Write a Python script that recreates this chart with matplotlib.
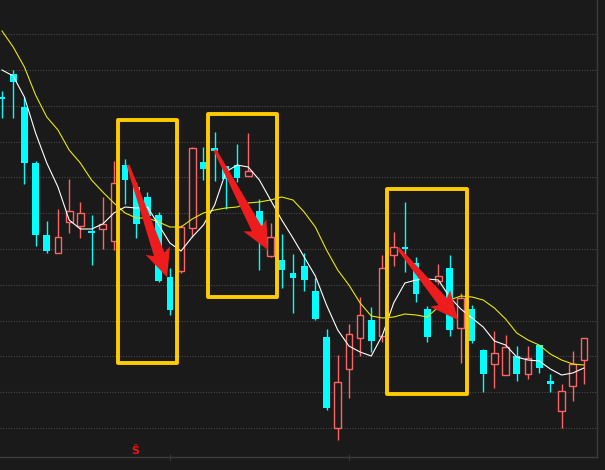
import numpy as np
import matplotlib.pyplot as plt
from matplotlib.patches import Rectangle, Polygon

# candle data (price units)
opens = [37.3, 39.6, 36.3, 30.7, 23.5, 21.7, 24.8, 24.4, 23.9, 24.1,
         22.9, 30.5, 28.3, 27.3, 25.5, 19.3, 19.9, 24.2, 30.8, 32.2,
         30.4, 30.5, 29.4, 25.9, 21.4, 21.0, 19.7, 20.4, 17.9, 13.3,
         4.2, 10.1, 13.2, 15.0, 13.4, 21.5, 22.3, 20.7, 16.1, 18.9,
         20.2, 14.2, 16.1, 12.0, 10.6, 9.5, 11.4, 9.6, 12.5, 8.9,
         5.9, 8.4, 11.0]
closes = [37.1, 38.8, 30.7, 23.5, 21.9, 23.3, 25.9, 25.7, 23.7, 24.6,
          28.7, 29.0, 24.6, 25.4, 18.9, 16.0, 24.3, 32.2, 30.1, 31.9,
          29.1, 29.2, 29.9, 24.1, 23.3, 20.0, 19.2, 19.0, 15.1, 6.2,
          8.8, 13.6, 15.5, 12.9, 20.2, 22.3, 22.1, 17.6, 13.3, 19.4,
          14.0, 17.2, 12.9, 9.6, 11.7, 12.3, 9.6, 11.2, 10.2, 8.6,
          7.9, 10.6, 13.2]
highs = [37.9, 40.0, 37.3, 30.9, 24.9, 26.1, 29.1, 26.8, 25.5, 27.3,
         30.9, 31.1, 28.8, 27.8, 25.8, 20.2, 24.5, 32.3, 32.3, 33.8,
         30.4, 32.6, 33.7, 27.1, 24.7, 23.6, 21.6, 21.7, 19.2, 14.1,
         11.5, 14.6, 17.3, 16.3, 21.5, 23.8, 26.8, 21.3, 16.4, 20.6,
         21.5, 17.7, 16.5, 12.1, 13.9, 13.5, 12.4, 12.4, 12.5, 9.6,
         8.6, 11.9, 13.2]
lows = [35.2, 35.2, 28.6, 22.4, 21.7, 21.7, 23.7, 23.2, 20.5, 22.1,
        22.0, 26.6, 23.2, 25.1, 18.8, 15.5, 19.7, 23.3, 29.0, 28.9,
        26.1, 28.8, 29.4, 20.0, 21.3, 18.2, 15.7, 17.9, 15.0, 6.0,
        3.0, 7.2, 11.4, 11.8, 12.8, 20.4, 19.8, 16.8, 12.8, 18.6,
        13.4, 10.7, 12.7, 7.8, 8.2, 9.5, 8.9, 9.1, 9.7, 7.8,
        4.2, 6.9, 8.6]

ma_white = [40.0, 39.4, 37.3, 33.7, 30.7, 28.3, 25.0, 24.1, 24.1, 24.6,
            25.7, 26.3, 26.2, 26.3, 24.5, 22.7, 21.9, 23.3, 24.5, 26.5,
            29.8, 30.5, 30.3, 29.0, 27.0, 25.0, 23.2, 21.3, 19.4, 16.5,
            14.0, 12.4, 11.8, 11.4, 13.5, 16.7, 18.7, 19.0, 19.1, 19.0,
            17.3, 16.1, 15.2, 14.3, 12.9, 12.5, 11.3, 11.0, 10.9, 10.1,
            9.5, 9.7, 10.2]
ma_yellow = [43.9, 42.3, 40.3, 37.5, 35.3, 34.0, 32.0, 30.7, 29.0, 27.8,
             26.7, 25.7, 25.2, 25.2, 24.8, 24.3, 24.3, 25.1, 25.7, 26.0,
             26.2, 26.3, 26.7, 26.8, 27.0, 27.3, 27.0, 25.8, 24.3, 22.0,
             20.0, 18.5, 16.7, 15.4, 15.2, 15.3, 15.6, 15.5, 15.3, 16.3,
             17.0, 17.4, 17.3, 17.0, 16.2, 15.1, 13.7, 13.0, 12.5, 11.6,
             11.0, 10.6, 10.5]

# highlight boxes: (x0, x1, y_bottom, y_top) in candle index / price
boxes = [(10.37, 15.64, 10.7, 35.0),
         (18.41, 24.58, 17.3, 35.6),
         (34.41, 41.56, 7.6, 28.1)]
# arrows: (x_tail, y_tail, x_tip, y_tip)
arrows = [(11.26, 30.5, 14.75, 19.3),
          (19.03, 32.0, 23.77, 22.0),
          (35.39, 22.2, 40.75, 15.0)]

bg = "#1a1a1a"
up_col = "#ff6464"
down_col = "#00ffff"

fig = plt.figure(figsize=(6.05, 4.70), dpi=100)
fig.patch.set_facecolor(bg)
ax = fig.add_axes([0, 13 / 470, 597 / 605, 457 / 470])
ax.set_facecolor(bg)

x = np.arange(len(opens))
o = np.array(opens)
c = np.array(closes)
up = c > o

# grid
for gy in np.arange(4.2, 45, 3.58):
    ax.axhline(gy, color="#555555", lw=0.8, ls=(0, (0.8, 1.6)), zorder=0)

# wicks
ax.vlines(x[up], np.array(lows)[up], np.array(highs)[up], color=up_col, lw=1, zorder=2)
ax.vlines(x[~up], np.array(lows)[~up], np.array(highs)[~up], color=down_col, lw=1, zorder=2)

# bodies
w = 0.6
bottom = np.minimum(o, c)
height = np.maximum(np.abs(c - o), 0.2)
ax.bar(x[up], height[up], w, bottom=bottom[up], facecolor=bg, edgecolor=up_col, lw=1, zorder=3)
ax.bar(x[~up], height[~up], w, bottom=bottom[~up], color=down_col, lw=0, zorder=3)

# moving averages
ax.plot(x, ma_yellow, color="#e8e800", lw=0.8, zorder=4)
ax.plot(x, ma_white, color="white", lw=0.8, zorder=4)

# boxes
for x0, x1, y0, y1 in boxes:
    ax.add_patch(Rectangle((x0, y0), x1 - x0, y1 - y0, fill=False, edgecolor="#ffcc00",
                           lw=2.8, joinstyle="round", zorder=5))

ax.set_xlim(-0.179, 53.17)
ax.set_ylim(1.3, 47.0)

# arrows drawn in pixel space so the shape does not stretch
fig.canvas.draw()
for xt, yt, xh, yh in arrows:
    p0 = ax.transData.transform((xt, yt))
    p1 = ax.transData.transform((xh, yh))
    d = p1 - p0
    L = np.hypot(*d)
    u = d / L
    n = np.array([-u[1], u[0]])
    base = p1 - u * 24
    pts = [p0 + n * 1.5, base + n * 5.5, base - u * 4 + n * 13, p1,
           base - u * 4 - n * 13, base - n * 5.5, p0 - n * 1.5]
    ax.add_patch(Polygon(pts, closed=True, transform=None, facecolor="#ee1c1c",
                         edgecolor="none", zorder=6))

# marker under the axis
ax.text(11.9, 1.95, "Ŝ", color="#ee1111", fontsize=8, fontweight="bold",
        ha="center", va="center", zorder=6)

for s in ["top", "left"]:
    ax.spines[s].set_visible(False)
for s in ["bottom", "right"]:
    ax.spines[s].set_color("#3c3c3c")
    ax.spines[s].set_linewidth(1)
ax.set_yticks([])
ax.set_xticks([15, 31])
ax.set_xticklabels([])
ax.tick_params(axis="x", direction="inout", length=5, color="#3c3c3c")

fig.savefig("out.png", dpi=100, facecolor=bg)
